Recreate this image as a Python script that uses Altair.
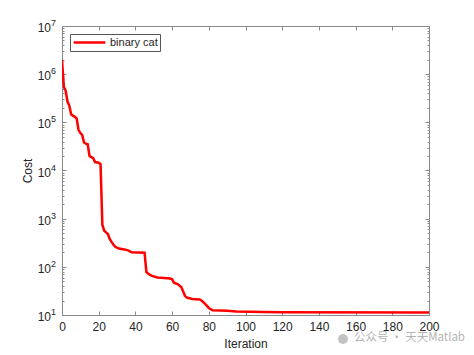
import altair as alt
import pandas as pd

# ---- data ----
iteration = [0, 1, 2, 3, 4, 5, 7, 8, 9, 10, 11, 12, 13, 14, 15, 16, 17, 18, 20, 21,
             22, 23, 24, 25, 26, 27, 28, 29, 31, 34, 36, 38, 45, 46, 47, 49, 52, 59,
             60, 61, 63, 65, 67, 68, 71, 75, 76, 78, 80, 82, 90, 95, 110, 120, 200]
cost = [1.95e6, 5.5e5, 4.5e5, 2.7e5, 2.2e5, 1.45e5, 1.3e5, 1.2e5, 7.0e4, 6.0e4,
        5.5e4, 3.8e4, 3.6e4, 3.5e4, 2.0e4, 1.9e4, 1.8e4, 1.5e4, 1.45e4, 1.35e4,
        750, 560, 520, 480, 380, 330, 290, 260, 240, 230, 220, 200, 196, 78, 72,
        65, 60, 57, 55, 47, 44, 38, 25, 23, 21.5, 21, 20, 17, 14, 12.5, 12.2, 11.8,
        11.6, 11.4, 11.3]
series_name = "binary cat"
x_ticks = [0, 20, 40, 60, 80, 100, 120, 140, 160, 180, 200]
y_major = [1e1, 1e2, 1e3, 1e4, 1e5, 1e6, 1e7]
y_exponents = ["1", "2", "3", "4", "5", "6", "7"]
y_minor = [k * 10 ** e for e in range(1, 7) for k in range(2, 10)]
watermark = ["公众号 · 天天Matlab"]

df = pd.DataFrame({"Iteration": iteration, "Cost": cost, "series": series_name})
df_ylab = pd.DataFrame({"Cost": y_major, "exp": y_exponents})
df_wm = pd.DataFrame({"t": watermark})

W, H = 367, 289
FONT = "Liberation Sans"
AX = "#8a8a8a"
TXT = "#262626"

xscale = alt.Scale(domain=[0, 200], nice=False, zero=False)
yscale = alt.Scale(type="log", domain=[10, 1e7], nice=False)

base = alt.Chart(df)

main = base.mark_line(strokeWidth=2.5, clip=True).encode(
    x=alt.X("Iteration:Q", scale=xscale, title="Iteration",
            axis=alt.Axis(values=x_ticks, ticks=False, domainColor=AX, labelPadding=6,
                          titlePadding=6, labelFontSize=12, titleFontSize=12,
                          labelColor=TXT, titleColor=TXT, titleFontWeight="normal",
                          labelFont=FONT, titleFont=FONT, grid=False,
                          labelFlush=False, labelOverlap=False)),
    y=alt.Y("Cost:Q", scale=yscale, title="Cost",
            axis=alt.Axis(values=y_major, ticks=False, labels=False, domainColor=AX,
                          titlePadding=28, titleFontSize=12, titleColor=TXT,
                          titleFontWeight="normal", titleFont=FONT, grid=False)),
    color=alt.Color("series:N", scale=alt.Scale(range=["#ff0000"]),
                    legend=alt.Legend(title=None, orient="top-left", offset=8,
                                      symbolType="stroke", symbolSize=1000,
                                      symbolStrokeWidth=2.5, labelFontSize=11,
                                      labelFont=FONT, labelColor=TXT,
                                      strokeColor="#555555", fillColor="white",
                                      padding=2, cornerRadius=0, labelOffset=3,
                                      clipHeight=13)),
)

# y tick labels as 10 with a superscript exponent
ylab_base = alt.Chart(df_ylab).mark_text(
    align="right", baseline="middle", fontSize=12, font=FONT, color=TXT, dy=2
).encode(x=alt.value(-11), y=alt.Y("Cost:Q", scale=yscale, axis=None),
         text=alt.value("10"))
ylab_exp = alt.Chart(df_ylab).mark_text(
    align="left", baseline="middle", fontSize=9, font=FONT, color=TXT, dy=-3
).encode(x=alt.value(-11), y=alt.Y("Cost:Q", scale=yscale, axis=None), text="exp:N")

wm = alt.Chart(df_wm).mark_text(
    align="left", baseline="middle", fontSize=11.5, font="Noto Sans CJK SC",
    color="#9a9a9a", opacity=0.75
).encode(x=alt.value(292), y=alt.value(312), text="t:N")
wm_icon = alt.Chart(df_wm).mark_circle(size=100, color="#a8a8a8", opacity=0.7).encode(
    x=alt.value(281), y=alt.value(313))


def tick_layer(xaxis, yaxis):
    return base.mark_line(opacity=0).encode(
        x=alt.X("Iteration:Q", scale=xscale, title=None, axis=xaxis),
        y=alt.Y("Cost:Q", scale=yscale, title=None, axis=yaxis),
    )


def ax(orient, values, size, offset, domain=False):
    return alt.Axis(orient=orient, values=values, labels=False, tickSize=size,
                    tickColor=AX, domain=domain, domainColor=AX, offset=offset,
                    grid=False, title=None)


layers = [
    main,
    tick_layer(ax("top", x_ticks, 4, -H), ax("right", y_major, 4, -W)),
    tick_layer(ax("bottom", x_ticks, 4, -H, True), ax("left", y_major, 4, -W, True)),
    tick_layer(None, ax("right", y_minor, 2, -W)),
    tick_layer(None, ax("left", y_minor, 2, -W)),
    ylab_base,
    ylab_exp,
    wm_icon,
    wm,
]

chart = alt.layer(*layers).resolve_axis(x="independent", y="independent").properties(
    width=W, height=H,
    autosize=alt.AutoSizeParams(type="none"),
    padding={"left": 62, "top": 26, "right": 45, "bottom": 40},
).configure_view(stroke=None)

chart.save("out.html", embed_options={"renderer": "svg", "actions": False})
